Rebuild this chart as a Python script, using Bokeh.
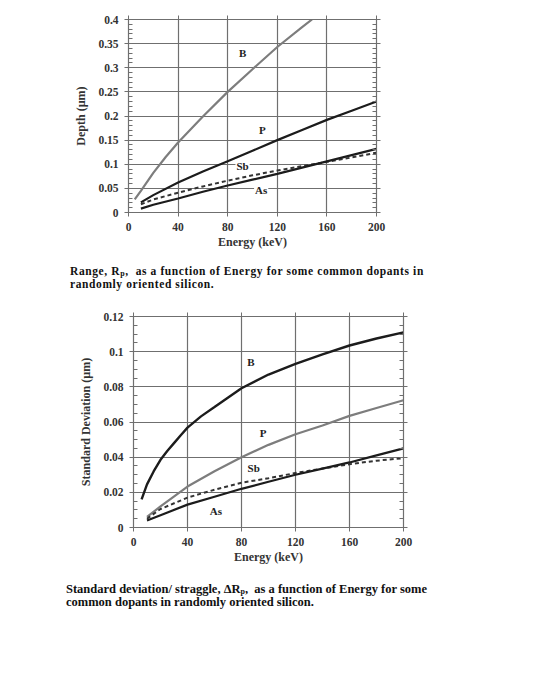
from bokeh.embed import file_html
from bokeh.resources import INLINE
from bokeh.layouts import column, row
from bokeh.models import Range1d, LinearAxis, FixedTicker, Label, Div, Grid, Spacer
from bokeh.plotting import figure

# ---------------- data: Range (depth) vs energy ----------------
b_rng_x = [5, 10, 20, 30, 40, 60, 80, 100, 120, 140, 148]
b_rng_y = [0.027, 0.045, 0.082, 0.115, 0.145, 0.199, 0.25, 0.297, 0.343, 0.384, 0.4]

e_x = [10, 20, 40, 60, 80, 100, 120, 140, 160, 180, 200]
p_rng_y = [0.021, 0.036, 0.062, 0.085, 0.106, 0.128, 0.150, 0.171, 0.192, 0.211, 0.23]
sb_rng_y = [0.017, 0.027, 0.041, 0.054, 0.066, 0.077, 0.087, 0.096, 0.105, 0.114, 0.124]
as_rng_y = [0.008, 0.016, 0.029, 0.043, 0.056, 0.068, 0.080, 0.093, 0.106, 0.119, 0.132]

# ---------------- data: straggle vs energy ----------------
b_std_x = [6, 10, 15, 20, 25, 30, 35, 40, 50, 60, 80, 100, 120, 140, 160, 180, 200]
b_std_y = [0.016, 0.0245, 0.032, 0.0385, 0.0435, 0.048, 0.0525, 0.0568, 0.0632, 0.0685,
           0.0792, 0.087, 0.093, 0.0985, 0.1035, 0.1075, 0.111]
p_std_y = [0.006, 0.012, 0.0233, 0.032, 0.040, 0.047, 0.053, 0.058, 0.0635, 0.068, 0.0724]
sb_std_y = [0.005, 0.0105, 0.017, 0.0215, 0.0255, 0.028, 0.031, 0.0335, 0.036, 0.038, 0.0394]
as_std_y = [0.004, 0.007, 0.013, 0.0175, 0.022, 0.026, 0.030, 0.0335, 0.037, 0.041, 0.045]

x_ticks = [0, 40, 80, 120, 160, 200]
rng_ticks = [0, 0.05, 0.1, 0.15, 0.2, 0.25, 0.3, 0.35, 0.4]
rng_labels = ["0", "0.05", "0.1", "0.15", "0.2", "0.25", "0.3", "0.35", "0.4"]
std_ticks = [0, 0.02, 0.04, 0.06, 0.08, 0.1, 0.12]
std_labels = ["0", "0.02", "0.04", "0.06", "0.08", "0.1", "0.12"]

# curve labels: (text, x, y)
rng_tags = [("B", 92, 0.33), ("P", 108, 0.172), ("Sb", 92, 0.096), ("As", 107, 0.046)]
std_tags = [("B", 87, 0.094), ("P", 96, 0.0535), ("Sb", 89, 0.0336), ("As", 61, 0.0095)]

SERIF = "Liberation Serif"
GRID = "#6f6f6f"
GRAY = "#7d7d7d"
DARK = "#1c1c1c"
LEFT, RIGHT = 120, 20


def style_axis(ax, ticker, labels=None):
    ax.ticker = ticker
    ax.axis_line_color = GRID
    ax.major_tick_line_color = GRID
    ax.minor_tick_line_color = GRID
    ax.major_tick_in = 3
    ax.major_tick_out = 4
    ax.minor_tick_in = 4
    ax.minor_tick_out = 0
    ax.major_label_text_font = SERIF
    ax.major_label_text_font_style = "bold"
    ax.major_label_text_font_size = "11.5px"
    ax.major_label_text_color = "#333333"
    ax.axis_label_text_font = SERIF
    ax.axis_label_text_font_style = "bold"
    ax.axis_label_text_font_size = "12px"
    ax.axis_label_text_color = "#333333"
    if labels is not None:
        ax.major_label_overrides = labels


def make_chart(fw, fh, ymax, yticks, ylabels, ylabel, yminor, tags):
    p = figure(width=LEFT + fw + RIGHT, height=19 + fh + 46,
               x_range=Range1d(0, 200), y_range=Range1d(0, ymax),
               output_backend="svg", toolbar_location=None,
               x_axis_location=None, y_axis_location=None,
               min_border_left=LEFT, min_border_right=RIGHT,
               min_border_top=19, min_border_bottom=46)
    p.outline_line_color = GRID
    p.outline_line_width = 1.2
    p.margin = 0
    # drop the default grids, ours follow the fixed ticks
    p.center = [c for c in p.center if not isinstance(c, Grid)]

    blank_x = {t: "" for t in x_ticks}
    blank_y = {t: "" for t in yticks}

    xb = LinearAxis(axis_label="Energy (keV)")
    style_axis(xb, FixedTicker(ticks=x_ticks))
    xb.major_label_standoff = 6
    xb.axis_label_standoff = 1
    p.add_layout(xb, "below")

    xa = LinearAxis()
    style_axis(xa, FixedTicker(ticks=x_ticks), blank_x)
    xa.major_label_standoff = 0
    p.add_layout(xa, "above")

    yl = LinearAxis(axis_label=ylabel)
    style_axis(yl, FixedTicker(ticks=yticks, minor_ticks=yminor), dict(zip(yticks, ylabels)))
    yl.major_label_standoff = 6
    yl.axis_label_standoff = 7
    yl.major_label_orientation = "horizontal"
    p.add_layout(yl, "left")

    yr = LinearAxis()
    style_axis(yr, FixedTicker(ticks=yticks, minor_ticks=yminor), blank_y)
    yr.major_label_standoff = 0
    p.add_layout(yr, "right")

    p.add_layout(Grid(dimension=0, ticker=FixedTicker(ticks=x_ticks),
                      grid_line_color=GRID, grid_line_width=1.2))
    p.add_layout(Grid(dimension=1, ticker=FixedTicker(ticks=yticks),
                      grid_line_color=GRID, grid_line_width=1.2))

    for t, x, y in tags:
        p.add_layout(Label(x=x, y=y, text=t, text_font=SERIF, text_font_style="bold",
                           text_font_size="11px", text_color="#222222",
                           text_align="center", text_baseline="middle",
                           background_fill_color="white", padding=1))
    return p


# ---------------- chart 1: range ----------------
rng_minor = [i / 100 for i in range(0, 41)]
p1 = make_chart(248, 193, 0.4, rng_ticks, rng_labels, "Depth (\u00b5m)", rng_minor, rng_tags)
p1.line(b_rng_x, b_rng_y, line_color=GRAY, line_width=2.2)
p1.line(e_x, p_rng_y, line_color=DARK, line_width=2.2)
p1.line(e_x, sb_rng_y, line_color="#333333", line_width=2, line_dash="4 3")
p1.line(e_x, as_rng_y, line_color=DARK, line_width=2.2)

# ---------------- chart 2: straggle ----------------
std_minor = [i / 200 for i in range(0, 25)]
p2 = make_chart(270, 211, 0.12, std_ticks, std_labels, "Standard Deviation (\u00b5m)",
                std_minor, std_tags)
p2.line(b_std_x, b_std_y, line_color=DARK, line_width=2.4)
p2.line(e_x, p_std_y, line_color=GRAY, line_width=2.2)
p2.line(e_x, sb_std_y, line_color="#333333", line_width=2, line_dash="4 3")
p2.line(e_x, as_std_y, line_color=DARK, line_width=2.2)

CAP = "font-family:'Liberation Serif'; font-weight:bold; color:#111; white-space:nowrap;"
SUB = '<span style="font-size:8px; line-height:8px; position:relative; top:1px">p</span>'
cap1 = Div(text=('<div style="' + CAP + 'font-size:11.5px; letter-spacing:0.6px; line-height:13px; '
                 'padding-top:7px; padding-left:70px">'
                 'Range, R' + SUB + ',&nbsp; as a function of Energy for some common dopants in<br>'
                 'randomly oriented silicon.</div>'),
           width=537, height=39, margin=0)
cap2 = Div(text=('<div style="' + CAP + 'font-size:12.5px; line-height:13px; '
                 'padding-top:10px; padding-left:66px">'
                 'Standard deviation/ straggle, \u0394R' + SUB + ',&nbsp; as a function of Energy '
                 'for some<br>common dopants in randomly oriented silicon.</div>'),
           width=537, height=60, margin=0)

layout = column(row(Spacer(width=128 - LEFT, height=10, margin=0), p1, margin=0),
                cap1,
                row(Spacer(width=133 - LEFT, height=10, margin=0), p2, margin=0),
                cap2, spacing=0, margin=0)
open("out.html", "w").write(file_html(layout, INLINE))
